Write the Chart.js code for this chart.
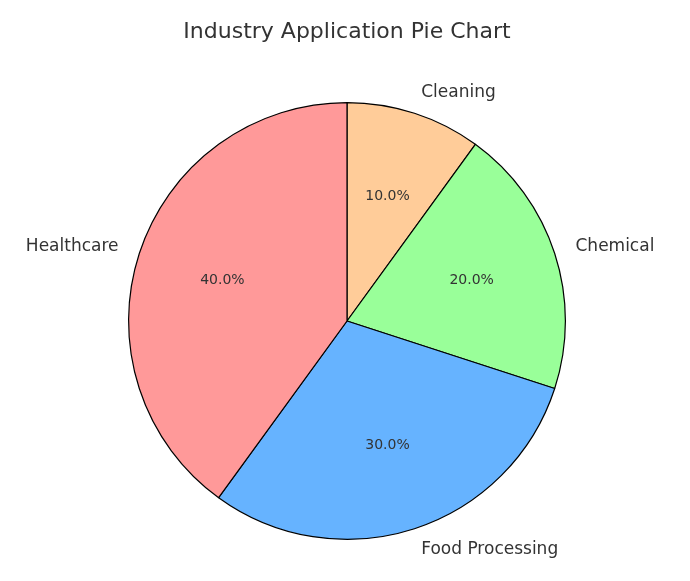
<!DOCTYPE html>
<html><head><meta charset="utf-8">
<script src="https://cdn.jsdelivr.net/npm/chart.js@4"></script>
<style>html,body{margin:0;padding:0;background:#fff}#w{width:690px;height:581px}</style>
</head><body><div id="w"><canvas id="c"></canvas></div>
<script>
const categories = ['Healthcare', 'Food Processing', 'Chemical', 'Cleaning'];
const values = [40, 30, 20, 10];
const colors = ['#ff9999', '#66b3ff', '#99ff99', '#ffcc99'];
// Chart.js draws clockwise; matplotlib counterclockwise from top -> reverse
const L = categories.slice().reverse(), V = values.slice().reverse(), C = colors.slice().reverse();
const total = values.reduce((a,b)=>a+b,0);
const labelPlugin = {
  id:'lbl',
  afterDraw(chart){
    const ctx = chart.ctx;
    ctx.save();
    ctx.fillStyle = '#333';
    ctx.font = '22px "DejaVu Sans"';
    ctx.textAlign = 'center'; ctx.textBaseline = 'middle';
    ctx.fillText('Industry Application Pie Chart', 347, 32);
    chart.getDatasetMeta(0).data.forEach((arc,i)=>{
      const a = (arc.startAngle + arc.endAngle)/2;
      const r = arc.outerRadius;
      const cx = Math.cos(a), cy = Math.sin(a);
      ctx.font = '17px "DejaVu Sans"';
      ctx.textAlign = cx > 0.001 ? 'left' : (cx < -0.001 ? 'right' : 'center');
      ctx.fillText(L[i], arc.x + 1.1*r*cx, arc.y + 1.1*r*cy);
      ctx.font = '14px "DejaVu Sans"';
      ctx.textAlign = 'center';
      ctx.fillText((V[i]/total*100).toFixed(1)+'%', arc.x + 0.6*r*cx, arc.y + 0.6*r*cy);
    });
    ctx.restore();
  }
};
new Chart(document.getElementById('c'), {
  type:'pie',
  data:{labels:L, datasets:[{data:V, backgroundColor:C, borderColor:'#000', borderWidth:1.2, hoverOffset:0}]},
  options:{responsive:true, maintainAspectRatio:false, animation:false,
    layout:{padding:{top:102, bottom:41, left:128, right:124}},
    plugins:{legend:{display:false}, tooltip:{enabled:false}}},
  plugins:[labelPlugin]
});
</script></body></html>
